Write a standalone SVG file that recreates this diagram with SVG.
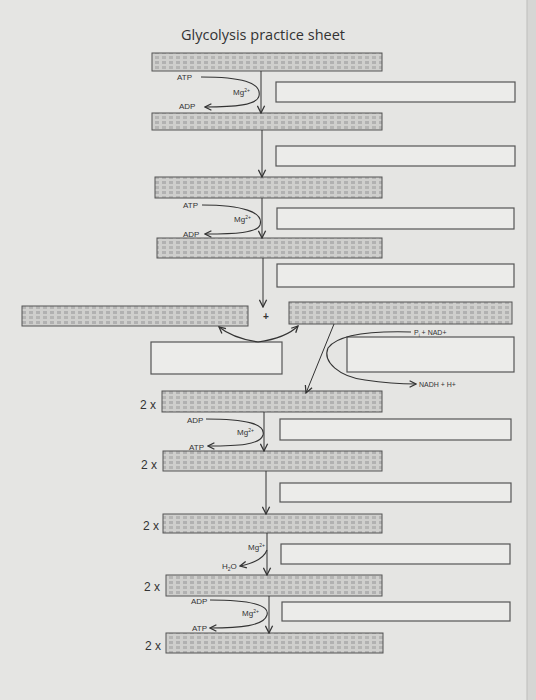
<svg xmlns="http://www.w3.org/2000/svg" width="536" height="700" viewBox="0 0 536 700">
<defs>
<pattern id="blur" width="7" height="10" patternUnits="userSpaceOnUse">
<rect width="7" height="10" fill="#cfcfcd"/>
<rect x="1" y="1" width="4" height="3" fill="#a2a2a1" opacity="0.65"/>
<rect x="1" y="6" width="4" height="3" fill="#a8a8a6" opacity="0.65"/>
</pattern>
<marker id="v" viewBox="0 0 10 10" refX="9" refY="5" markerWidth="9" markerHeight="9" markerUnits="userSpaceOnUse" orient="auto">
<path d="M1,1 L9,5 L1,9" fill="none" stroke="#333" stroke-width="1.4"/>
</marker>
<marker id="vs" viewBox="0 0 10 10" refX="9" refY="5" markerWidth="8" markerHeight="8" markerUnits="userSpaceOnUse" orient="auto">
<path d="M1,1 L9,5 L1,9" fill="none" stroke="#333" stroke-width="1.6"/>
</marker>
</defs>
<style>
.g{fill:url(#blur);stroke:#555;stroke-width:1}
.w{fill:#ececea;stroke:#555;stroke-width:1.2}
.ln{fill:none;stroke:#333;stroke-width:1}
.cv{fill:none;stroke:#333;stroke-width:1.1}
.t{font-family:"Liberation Sans",Arial,sans-serif;fill:#333}
.s{font-size:8px}
.x{font-size:12px}
</style>
<rect width="536" height="700" fill="#e5e5e3"/>
<rect x="527" y="0" width="9" height="700" fill="#d6d6d4"/>
<line x1="527" y1="0" x2="527" y2="700" stroke="#bdbdbb" stroke-width="1"/>

<text x="263" y="40" font-family="'Open Sans','Liberation Sans',sans-serif" font-size="14.5" fill="#333" text-anchor="middle">Glycolysis  practice sheet</text>

<g id="m1"><rect class="g" x="152" y="53" width="230" height="18"/></g>
<g id="m2"><rect class="g" x="152" y="113" width="230" height="17"/></g>
<g id="m3"><rect class="g" x="155" y="177" width="227" height="21"/></g>
<g id="m4"><rect class="g" x="157" y="238" width="225" height="20"/></g>
<g id="m5a"><rect class="g" x="22" y="306" width="226" height="20"/></g>
<g id="m5b"><rect class="g" x="289" y="302" width="223" height="22"/></g>
<g id="m6"><rect class="g" x="162" y="391" width="220" height="21"/><text class="t x" x="140" y="409">2 x</text></g>
<g id="m7"><rect class="g" x="163" y="451" width="219" height="20"/><text class="t x" x="141" y="469">2 x</text></g>
<g id="m8"><rect class="g" x="163" y="514" width="219" height="19"/><text class="t x" x="143" y="530">2 x</text></g>
<g id="m9"><rect class="g" x="166" y="575" width="216" height="21"/><text class="t x" x="144" y="591">2 x</text></g>
<g id="m10"><rect class="g" x="166" y="633" width="217" height="20"/><text class="t x" x="145" y="650">2 x</text></g>

<g id="a1"><rect class="w" x="276" y="82" width="239" height="20"/></g>
<g id="a2"><rect class="w" x="276" y="146" width="239" height="20"/></g>
<g id="a3"><rect class="w" x="277" y="208" width="237" height="21"/></g>
<g id="a4"><rect class="w" x="277" y="264" width="237" height="23"/></g>
<g id="a5"><rect class="w" x="151" y="342" width="131" height="32"/></g>
<g id="a6"><rect class="w" x="347" y="337" width="167" height="35"/></g>
<g id="a7"><rect class="w" x="280" y="419" width="231" height="21"/></g>
<g id="a8"><rect class="w" x="280" y="483" width="231" height="19"/></g>
<g id="a9"><rect class="w" x="281" y="544" width="229" height="20"/></g>
<g id="a10"><rect class="w" x="282" y="602" width="228" height="19"/></g>

<g id="labels">
<text class="t s" x="177" y="80">ATP</text>
<text class="t s" x="179" y="109">ADP</text>
<text class="t s" x="233" y="95">Mg<tspan font-size="5" dy="-3">2+</tspan></text>
<text class="t s" x="183" y="208">ATP</text>
<text class="t s" x="183" y="237">ADP</text>
<text class="t s" x="234" y="222">Mg<tspan font-size="5" dy="-3">2+</tspan></text>
<text class="t" x="266" y="320" font-size="10" font-weight="bold" text-anchor="middle">+</text>
<text class="t" x="414" y="335" font-size="7">P<tspan font-size="4.5" dy="1.5">i</tspan><tspan dy="-1.5"> + NAD+</tspan></text>
<text class="t" x="419" y="387" font-size="7">NADH + H+</text>
<text class="t s" x="187" y="423">ADP</text>
<text class="t s" x="189" y="450">ATP</text>
<text class="t s" x="237" y="435">Mg<tspan font-size="5" dy="-3">2+</tspan></text>
<text class="t s" x="248" y="550">Mg<tspan font-size="5" dy="-3">2+</tspan></text>
<text class="t s" x="222" y="569">H<tspan font-size="5" dy="1.5">2</tspan><tspan dy="-1.5">O</tspan></text>
<text class="t s" x="191" y="604">ADP</text>
<text class="t s" x="192" y="631">ATP</text>
<text class="t s" x="242" y="616">Mg<tspan font-size="5" dy="-3">2+</tspan></text>
</g>

<g id="connectors">
<line class="ln" x1="261" y1="71" x2="261" y2="113" marker-end="url(#v)"/>
<line class="ln" x1="262" y1="130" x2="262" y2="177" marker-end="url(#v)"/>
<line class="ln" x1="262" y1="198" x2="262" y2="238" marker-end="url(#v)"/>
<line class="ln" x1="263" y1="258" x2="263" y2="307" marker-end="url(#v)"/>
<line class="ln" x1="334" y1="324" x2="306" y2="393" marker-end="url(#v)"/>
<line class="ln" x1="264" y1="412" x2="264" y2="451" marker-end="url(#v)"/>
<line class="ln" x1="266" y1="471" x2="266" y2="514" marker-end="url(#v)"/>
<line class="ln" x1="267" y1="533" x2="267" y2="575" marker-end="url(#v)"/>
<line class="ln" x1="269" y1="596" x2="269" y2="633" marker-end="url(#v)"/>

<path class="cv" d="M201,77 C240,77 262,82 259,96 C257,105 235,107 205,107" marker-end="url(#vs)"/>
<path class="cv" d="M202,205 C242,205 264,212 260,225 C257,233 235,234 205,234" marker-end="url(#vs)"/>
<path class="cv" d="M206,419 C246,419 266,424 263,435 C260,445 238,446 208,446" marker-end="url(#vs)"/>
<path class="cv" d="M267,550 C264,558 255,563 240,566" marker-end="url(#vs)"/>
<path class="cv" d="M210,600 C250,600 270,605 267,615 C264,626 240,628 210,628" marker-end="url(#vs)"/>

<path class="cv" d="M258,342 C245,340 230,336 219,327" marker-end="url(#vs)"/>
<path class="cv" d="M258,342 C272,340 288,336 298,326" marker-end="url(#vs)"/>

<path class="cv" d="M411,332 C375,331 338,334 328,348 C322,362 340,377 365,380 C385,383 400,384 416,384" marker-end="url(#vs)"/>
</g>
</svg>
